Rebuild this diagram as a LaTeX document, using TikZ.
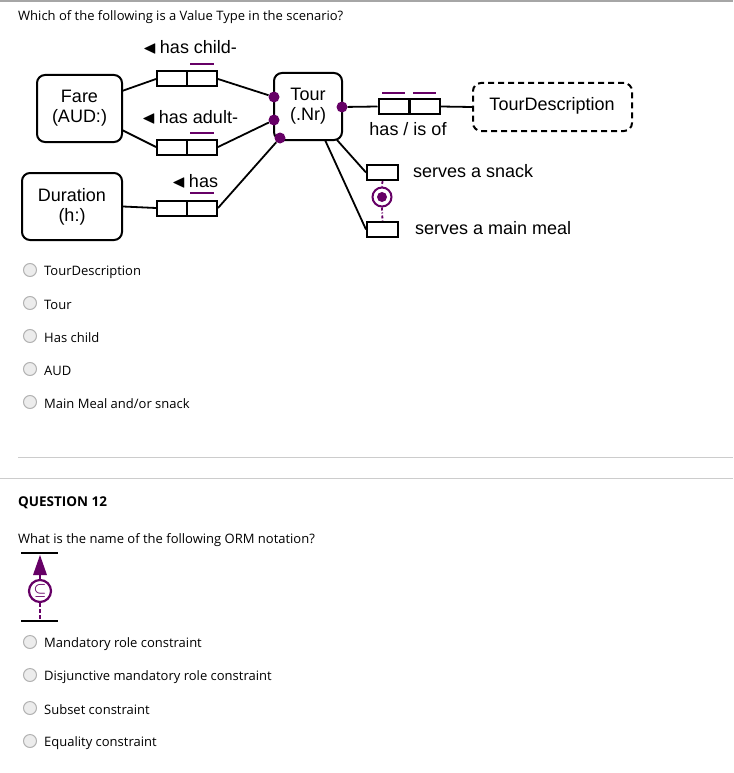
\documentclass[tikz,border=0pt]{standalone}
\usepackage{amsmath,amssymb}
\usepackage{fontspec}
\setmainfont{Open Sans}
\newfontfamily\dgm{Liberation Sans}
\begin{document}
\begin{tikzpicture}[x=1pt,y=-1pt,
  ent/.style={draw,line width=2pt,rounded corners=8pt,inner sep=0pt},
  rbox/.style={draw,line width=2pt,minimum width=30pt,minimum height=15pt,inner sep=0pt},
  lbl/.style={font=\dgm\fontsize{18}{19}\selectfont,inner sep=0pt},
  pbar/.style={draw=violet!80!black,line width=2.2pt},
  pdot/.style={circle,fill=violet!80!black,inner sep=0pt,minimum size=11pt},
  conn/.style={line width=1.8pt},
  qt/.style={font=\fontsize{13}{14}\selectfont,anchor=west,inner sep=0pt},
  radio/.style={circle,draw=gray!60,fill=gray!15,line width=1pt,minimum size=13pt,inner sep=0pt}]
\useasboundingbox (0,0) rectangle (733,773);
\draw[gray!70,line width=1.5pt] (0,1) -- (733,1);
\node[qt] (t1) at (18,17) {Which of the following is a Value Type in the scenario?};
% entities
\node[ent,minimum width=85pt,minimum height=67pt] (fare) at (79.5,108.5) {};
\node[lbl,align=center] (faret) at (79.5,108.5) {Fare\\[1pt](AUD:)};
\node[ent,minimum width=68pt,minimum height=67pt] (tour) at (308,106.5) {};
\node[lbl,align=center] (tourt) at (308,106.5) {Tour\\[1pt](.Nr)};
\node[ent,minimum width=100pt,minimum height=67pt] (dur) at (72,206.5) {};
\node[lbl,align=center] (durt) at (72,206.5) {Duration\\[1pt](h:)};
\node[ent,dash pattern=on 6pt off 4pt,minimum width=159pt,minimum height=48pt] (td) at (552.5,107) {};
\node[lbl] (tdt) at (552,106) {TourDescription};
% roles
\foreach \n/\y in {a/79,b/147,c/208}{
  \node[rbox] (\n1) at (172,\y) {};
  \node[rbox] (\n2) at (202,\y) {};
}
\node[rbox] (d1) at (393.5,106.5) {};
\node[rbox] (d2) at (424.5,106.5) {};
\node[rbox,minimum width=31pt] (s) at (382.5,172.5) {};
\node[rbox,minimum width=31pt] (m) at (382.5,229.5) {};
% labels
\node[lbl] (la) at (190,47) {$\blacktriangleleft$\,has child-};
\node[lbl] (lb) at (190,117) {$\blacktriangleleft$\,has adult-};
\node[lbl] (lc) at (195,181) {$\blacktriangleleft$\,has};
\node[lbl] (ld) at (408,129) {has / is of};
\node[lbl,anchor=west] (ls) at (413,171) {serves a snack};
\node[lbl,anchor=west] (lm) at (415,228) {serves a main meal};
% uniqueness bars
\draw[pbar] (190,64) -- (214,64);
\draw[pbar] (190,133) -- (214,133);
\draw[pbar] (190,193) -- (214,193);
\draw[pbar] (382,93) -- (405,93);
\draw[pbar] (413,93) -- (436,93);
% dots
\node[pdot] (p1) at (274,97) {};
\node[pdot] (p2) at (274,120) {};
\node[pdot] (p3) at (280,138) {};
\node[pdot] (p4) at (342,107) {};
% connectors
\draw[conn] (122,91) -- (a1.west);
\draw[conn] (a2.east) -- (p1);
\draw[conn] (122,130) -- (b1.west);
\draw[conn] (b2.east) -- (p2);
\draw[conn] (dur.east) -- (c1.west);
\draw[conn] (c2.east) -- (p3);
\draw[conn] (p4) -- (d1.west);
\draw[conn] (d2.east) -- (td.west);
\draw[conn] (337,140) -- (s.west);
\draw[conn] (325,140) -- (m.west);
% exclusive-or constraint
\node[circle,draw=violet!80!black,line width=2pt,minimum size=19pt,inner sep=0pt] (xo) at (382,197) {};
\node[pdot,minimum size=10pt] (xd) at (382,197) {};
\draw[violet!80!black,line width=1.8pt,dash pattern=on 3pt off 2pt on 1pt off 2pt] (s.south) -- (xo.north);
\draw[violet!80!black,line width=1.8pt,dash pattern=on 3pt off 2pt on 1pt off 2pt] (xo.south) -- (m.north);
% options 1
\foreach \y/\t [count=\i] in {270/TourDescription,303/Tour,336/Has child,369/AUD,402/{Main Meal and/or snack}}{
  \node[radio] (r\i) at (30,\y) {};
  \node[qt] (o\i) at (44,\y+2) {\t};
}
\draw[gray!40,line width=1pt] (18,457) -- (733,457);
\draw[gray!40,line width=1pt] (0,478) -- (733,478);
\node[qt,font=\bfseries\fontsize{13.5}{14}\selectfont] (q12) at (18,503) {QUESTION 12};
\node[qt] (t2) at (18,540) {What is the name of the following ORM notation?};
% symbol
\draw[line width=1.8pt] (21,553) -- (58,553);
\draw[line width=1.8pt] (21,621) -- (58,621);
\fill[violet!80!black] (40,555) -- (47,575) -- (33,575) -- cycle;
\node[circle,draw=violet!80!black,line width=2.2pt,minimum size=22pt,inner sep=0pt,text=violet!80!black,font=\Large] (sub) at (40,591) {$\boldsymbol{\subseteq}$};
\draw[violet!80!black,line width=2.4pt,dash pattern=on 4pt off 2pt] (40,575) -- (sub.north);
\draw[violet!80!black,line width=2.4pt,dash pattern=on 4pt off 2pt] (sub.south) -- (40,621);
% options 2
\foreach \y/\t [count=\i] in {642/Mandatory role constraint,675/Disjunctive mandatory role constraint,708/Subset constraint,741/Equality constraint}{
  \node[radio] (q\i) at (30,\y) {};
  \node[qt] (u\i) at (44,\y+2) {\t};
}
\end{tikzpicture}
\end{document}
